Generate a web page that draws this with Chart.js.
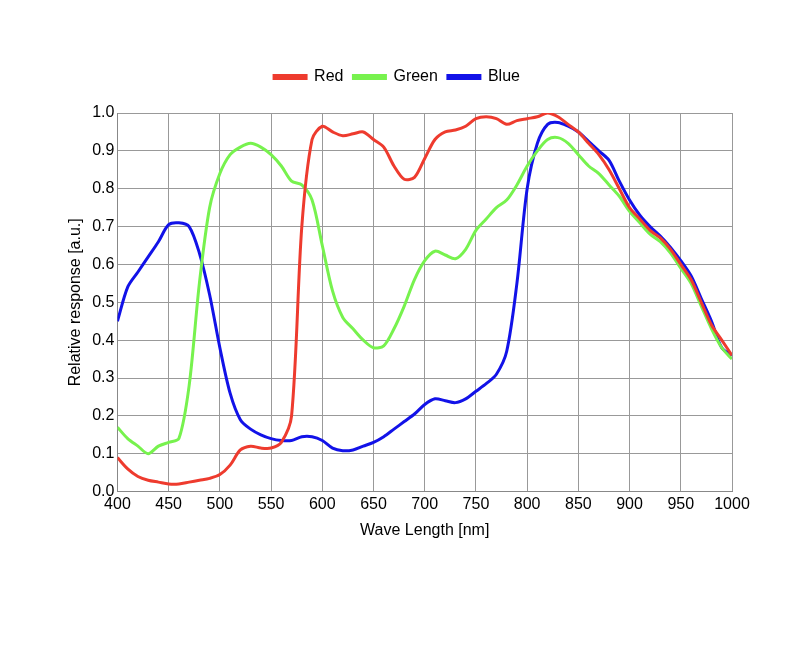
<!DOCTYPE html><html><head><script src="https://cdn.jsdelivr.net/npm/chart.js@4"></script>
<style>body{margin:0;background:#fff}</style></head><body>
<canvas id="c" width="800" height="652"></canvas>
<script>
const wl=[400,410,420,430,440,450,460,470,480,490,500,510,520,530,540,550,560,570,580,590,600,610,620,630,640,650,660,670,680,690,700,710,720,730,740,750,760,770,780,790,800,810,820,830,840,850,860,870,880,890,900,910,920,930,940,950,960,970,980,990,1000];
const red=[0.09,0.06,0.04,0.03,0.025,0.02,0.02,0.025,0.03,0.035,0.045,0.07,0.11,0.12,0.115,0.115,0.13,0.2,0.7,0.93,0.965,0.95,0.94,0.945,0.95,0.93,0.91,0.86,0.825,0.83,0.88,0.93,0.95,0.955,0.965,0.985,0.99,0.985,0.97,0.98,0.985,0.99,1.0,0.99,0.97,0.95,0.92,0.89,0.85,0.8,0.75,0.72,0.69,0.67,0.64,0.6,0.56,0.5,0.44,0.4,0.36];
const green=[0.17,0.14,0.12,0.1,0.12,0.13,0.14,0.28,0.55,0.75,0.84,0.89,0.91,0.92,0.91,0.89,0.86,0.82,0.81,0.77,0.65,0.53,0.46,0.43,0.4,0.38,0.385,0.43,0.49,0.56,0.61,0.635,0.625,0.615,0.64,0.69,0.72,0.75,0.77,0.81,0.86,0.9,0.93,0.935,0.92,0.89,0.86,0.84,0.81,0.78,0.74,0.71,0.68,0.66,0.63,0.59,0.55,0.49,0.43,0.38,0.35];
const blue=[0.45,0.54,0.58,0.62,0.66,0.705,0.71,0.7,0.63,0.52,0.38,0.26,0.19,0.165,0.15,0.14,0.135,0.135,0.145,0.145,0.135,0.115,0.108,0.11,0.12,0.13,0.145,0.165,0.185,0.205,0.23,0.245,0.24,0.235,0.245,0.265,0.285,0.31,0.37,0.55,0.8,0.92,0.97,0.975,0.965,0.95,0.925,0.9,0.875,0.82,0.77,0.73,0.7,0.675,0.645,0.61,0.57,0.51,0.45,0.38,0.36];
const pts=a=>a.map((v,i)=>({x:wl[i],y:v}));
const ds=(l,a,c)=>({label:l,data:pts(a),borderColor:c,backgroundColor:c,borderWidth:3,pointRadius:0,tension:0.3,fill:false});
const f={family:'Arial, Liberation Sans',size:16};
const legendGap={id:'legendGap',afterInit(c){const o=c.legend.fit;c.legend.fit=function(){o.call(this);this.height+=18;};}};
new Chart(document.getElementById('c'),{type:'line',plugins:[legendGap],
data:{datasets:[ds('Red',red,'#ee3b2e'),ds('Green',green,'#77f24e'),ds('Blue',blue,'#1212e8')]},
options:{responsive:false,animation:false,
layout:{padding:{left:62,right:68,top:59,bottom:108}},
plugins:{legend:{labels:{boxWidth:32,boxHeight:3,font:f,color:'#000'}},tooltip:{enabled:false}},
scales:{x:{type:'linear',min:400,max:1000,ticks:{stepSize:50,font:f,color:'#000',callback:v=>String(v)},grid:{color:'#999',drawTicks:false},border:{color:'#888'},title:{display:true,text:'Wave Length [nm]',font:f,color:'#000'}},
y:{min:0,max:1,ticks:{stepSize:0.1,font:f,color:'#000',callback:v=>v.toFixed(1)},grid:{color:'#999',drawTicks:false},border:{color:'#888'},title:{display:true,text:'Relative response [a.u.]',font:f,color:'#000'}}}}});
</script></body></html>
